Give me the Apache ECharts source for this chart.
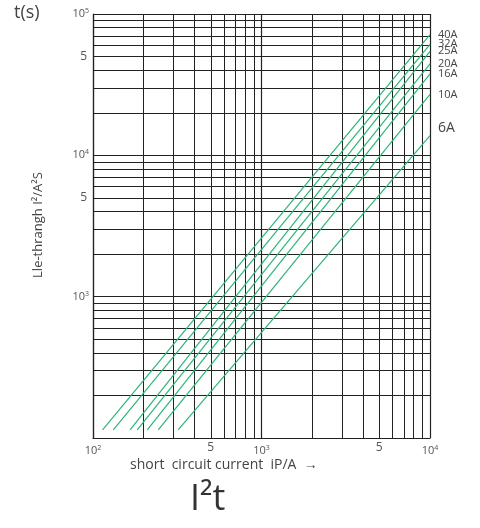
<!DOCTYPE html>
<html><head><meta charset="utf-8">
<script src="https://cdn.jsdelivr.net/npm/echarts@6/dist/echarts.min.js"></script>
<style>html,body{margin:0;background:#fff}#c{width:480px;height:528px}</style>
</head><body><div id="c"></div>
<script>
const ratings = ['40A','32A','25A','20A','16A','10A','6A'];
const startCurrent = [114,132,166,183,210,244,320];
const startI2t = [114,114,114,114,114,114,114];
const endCurrent = [10000,10000,10000,10000,10000,10000,10000];
const endI2t = [71400,61000,54500,44300,37700,27000,13800];
const labelY = [71400,61000,54500,44300,37700,27000,15500];
const fivesX = [500,5000];
const fivesY = [5000,50000];

const chart = echarts.init(document.getElementById('c'));
const sup = {fontFamily:'Open Sans',fontSize:7,color:'#555',verticalAlign:'top',padding:[0,0,6,0]};
const base = {fontFamily:'Open Sans',fontSize:11,color:'#555'};
function expLabel(v){const e=Math.round(Math.log10(v));return '{b|10}{s|'+e+'}';}
const gridLine={show:true,lineStyle:{color:'#222',width:1.2}};
const minorLine={show:true,lineStyle:{color:'#222',width:1}};
const series = ratings.map((r,i)=>({
  type:'line',name:r,symbol:'none',silent:true,
  lineStyle:{color:'#2bb673',width:1.2},
  data:[[startCurrent[i],startI2t[i]],[endCurrent[i],endI2t[i]]],
  endLabel:{show:false}
}));
chart.setOption({
  animation:false,
  grid:{left:93,right:50,top:14,bottom:90},
  xAxis:{type:'log',min:100,max:10000,logBase:10,
    axisLine:{lineStyle:{color:'#222',width:1.2}},axisTick:{show:false},
    splitLine:gridLine,minorTick:{show:false,splitNumber:9},minorSplitLine:minorLine,
    axisLabel:{formatter:expLabel,rich:{b:base,s:sup},margin:6}},
  yAxis:{type:'log',min:100,max:100000,logBase:10,
    axisLine:{lineStyle:{color:'#222',width:1.2}},axisTick:{show:false},
    splitLine:gridLine,minorTick:{show:false,splitNumber:9},minorSplitLine:minorLine,
    axisLabel:{formatter:v=>v<=100?'':expLabel(v),rich:{b:base,s:sup},margin:4}},
  series:series
});
const g=[];
ratings.forEach((r,i)=>{
  const p=chart.convertToPixel({gridIndex:0},[endCurrent[i],labelY[i]]);
  g.push({type:'text',x:p[0]+8,y:p[1],style:{text:r,fontFamily:'Open Sans',fontSize:r==='6A'?14:11,fill:'#444',verticalAlign:'middle'}});
});
fivesX.forEach(v=>{const p=chart.convertToPixel({gridIndex:0},[v,100]);
  g.push({type:'text',x:p[0],y:p[1]+4,style:{text:'5',fontFamily:'Open Sans',fontSize:12,fill:'#555',align:'center'}});});
fivesY.forEach(v=>{const p=chart.convertToPixel({gridIndex:0},[100,v]);
  g.push({type:'text',x:p[0]-6,y:p[1],style:{text:'5',fontFamily:'Open Sans',fontSize:12,fill:'#555',align:'right',verticalAlign:'middle'}});});
g.push({type:'text',left:14,top:4,style:{text:'t(s)',fontFamily:'Open Sans',fontSize:18,fill:'#444'}});
g.push({type:'text',x:38,y:225,rotation:Math.PI/2,style:{text:'Lle-thrangh I²/A²S',fontFamily:'Open Sans',fontSize:13,fill:'#444',align:'center',verticalAlign:'middle'}});
g.push({type:'text',x:130,y:458,style:{text:'short  circuit current  iP/A  →',fontFamily:'Open Sans',fontSize:14,fill:'#444'}});
g.push({type:'text',x:190,y:482,style:{text:'I²t',fontFamily:'Open Sans',fontSize:36,fill:'#333'}});
chart.setOption({graphic:g});
</script></body></html>
